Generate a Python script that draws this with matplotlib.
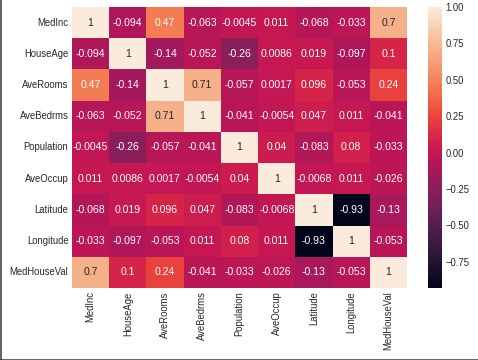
import numpy as np
import matplotlib
matplotlib.use("Agg")
import matplotlib.pyplot as plt
import seaborn as sns
from matplotlib.lines import Line2D

labels = ["MedInc", "HouseAge", "AveRooms", "AveBedrms", "Population",
          "AveOccup", "Latitude", "Longitude", "MedHouseVal"]

medinc = [1, -0.094, 0.47, -0.063, -0.0045, 0.011, -0.068, -0.033, 0.7]
houseage = [-0.094, 1, -0.14, -0.052, -0.26, 0.0086, 0.019, -0.097, 0.1]
averooms = [0.47, -0.14, 1, 0.71, -0.057, 0.0017, 0.096, -0.053, 0.24]
avebedrms = [-0.063, -0.052, 0.71, 1, -0.041, -0.0054, 0.047, 0.011, -0.041]
population = [-0.0045, -0.26, -0.057, -0.041, 1, 0.04, -0.083, 0.08, -0.033]
aveoccup = [0.011, 0.0086, 0.0017, -0.0054, 0.04, 1, -0.0068, 0.011, -0.026]
latitude = [-0.068, 0.019, 0.096, 0.047, -0.083, -0.0068, 1, -0.93, -0.13]
longitude = [-0.033, -0.097, -0.053, 0.011, 0.08, 0.011, -0.93, 1, -0.053]
medhouseval = [0.7, 0.1, 0.24, -0.041, -0.033, -0.026, -0.13, -0.053, 1]

corr = np.array([medinc, houseage, averooms, avebedrms, population,
                 aveoccup, latitude, longitude, medhouseval])

plt.rcParams["font.family"] = ["Liberation Sans", "DejaVu Sans"]
plt.rcParams["font.size"] = 10

W, H = 478, 360
fig = plt.figure(figsize=(W / 72, H / 72), dpi=72)
ax = fig.add_axes([72 / W, (H - 288) / H, (407 - 72) / W, 281 / H])
cax = fig.add_axes([428 / W, (H - 288) / H, 14 / W, 281 / H])

sns.heatmap(corr, annot=True, cmap="rocket", ax=ax, cbar_ax=cax,
            xticklabels=labels, yticklabels=labels, annot_kws={"size": 10.5})

ax.tick_params(length=0, colors="#262626", labelsize=9.5)
ax.set_yticklabels(labels, rotation=0)
ax.set_xticklabels(labels, rotation=90)
cax.tick_params(length=0, colors="#262626", labelsize=9.5)
cax.set_yticks([-0.75, -0.5, -0.25, 0, 0.25, 0.5, 0.75, 1.0])
cax.set_yticklabels(["\u22120.75", "\u22120.50", "\u22120.25", "0.00",
                     "0.25", "0.50", "0.75", "1.00"])
for s in cax.spines.values():
    s.set_visible(False)

# frame lines at the left and bottom edge
fig.add_artist(Line2D([0.5 / W, 0.5 / W], [0, 1], color="#333333", lw=1.5))
fig.add_artist(Line2D([0, 1], [0.5 / H, 0.5 / H], color="#333333", lw=1.5))

fig.savefig("out.png", dpi=72)
